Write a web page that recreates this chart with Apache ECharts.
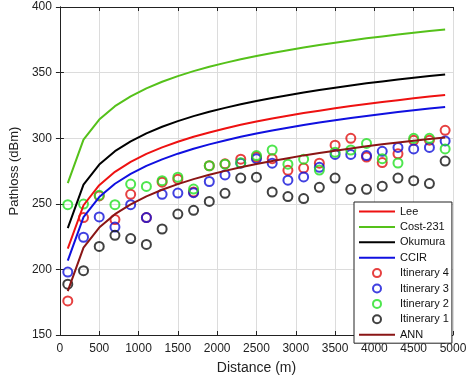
<!DOCTYPE html>
<html>
<head>
<meta charset="utf-8">
<script src="https://cdn.jsdelivr.net/npm/echarts@6/dist/echarts.min.js"></script>
<style>
html,body{margin:0;padding:0;background:#fff;}
#chart{width:474px;height:380px;}
</style>
</head>
<body>
<div id="chart"></div>
<script>
// Distances (m)
const distances = [100,300,500,700,900,1100,1300,1500,1700,1900,2100,2300,2500,2700,2900,3100,3300,3500,3700,3900,4100,4300,4500,4700,4900];

// Model curves
const lee      = [215.8,248.9,264.2,274.4,281.9,288.0,293.0,297.3,301.1,304.4,307.4,310.2,312.7,315.0,317.1,319.2,321.0,322.8,324.5,326.1,327.6,329.0,330.4,331.7,332.9];
const cost231  = [265.8,298.9,314.2,324.4,331.9,338.0,343.0,347.3,351.1,354.4,357.4,360.2,362.7,365.0,367.1,369.2,371.0,372.8,374.5,376.1,377.6,379.0,380.4,381.7,382.9];
const okumura  = [231.5,264.6,279.9,290.1,297.6,303.7,308.7,313.0,316.8,320.1,323.1,325.9,328.4,330.7,332.8,334.9,336.7,338.5,340.2,341.8,343.3,344.7,346.1,347.4,348.6];
const ccir     = [206.7,239.8,255.1,265.3,272.8,278.9,283.9,288.2,292.0,295.3,298.3,301.1,303.6,305.9,308.0,310.1,311.9,313.7,315.4,317.0,318.5,319.9,321.3,322.6,323.8];
const ann      = [183.5,216.6,231.9,242.1,249.6,255.7,260.7,265.0,268.8,272.1,275.1,277.9,280.4,282.7,284.8,286.9,288.7,290.5,292.2,293.8,295.3,296.7,298.1,299.4,300.6];

// Measurements
const itinerary4 = [176,239.5,256,238,257.2,239.5,266.5,268.8,259,279,280.5,284,285.6,284.4,275.5,277.2,281,294.7,299.9,285.6,281.4,288.1,298.4,298.5,306];
const itinerary3 = [198,224.5,240,232.3,249.3,239.5,257.2,258.2,258.5,267,272,281,284.4,281,268,270.5,277.8,287.6,287.6,286.8,290,293,291.8,293,297.9];
const itinerary2 = [249.3,249.8,256.5,249.3,265,263.2,267.6,270.3,261.2,279,280.2,281.2,286.8,291,280.2,284,275.7,289.3,291,296,284.4,281.1,299.9,299.9,291.8];
const itinerary1 = [188.7,199,217.5,226,223.5,219,230.8,242.2,245,251.8,258,269.6,270.3,259,255.5,254,262.6,269.6,261,261,263.4,269.6,267.6,265.4,282.6];

// Axis ticks
const xMin = 0, xMax = 5000, xStep = 500;
const yMin = 150, yMax = 400, yStep = 50;

const pair = arr => distances.map((d,i)=>[d,arr[i]]);

function lineSeries(name, arr, color){
  return {name, type:'line', data:pair(arr), symbol:'none', smooth:false,
    lineStyle:{color, width:2}, itemStyle:{color}, emphasis:{disabled:true}};
}
function scatterSeries(name, arr, color){
  return {name, type:'scatter', data:pair(arr), symbol:'circle', symbolSize:9,
    itemStyle:{color:'rgba(0,0,0,0)', borderColor:color, borderWidth:2}, emphasis:{disabled:true}};
}

const lineNames = ['Lee','Cost-231','Okumura','CCIR','ANN'];
const legendOrder = ['Lee','Cost-231','Okumura','CCIR','Itinerary 4','Itinerary 3','Itinerary 2','Itinerary 1','ANN'];

const chart = echarts.init(document.getElementById('chart'), null, {renderer:'canvas'});
const font = 'Liberation Sans, Arial, sans-serif';
chart.setOption({
  animation:false,
  backgroundColor:'#fff',
  textStyle:{fontFamily:font},
  grid:{left:45, right:21, top:7, bottom:35, containLabel:false},
  xAxis:[{
    type:'value', min:xMin, max:xMax, interval:xStep,
    name:'Distance (m)', nameLocation:'middle', nameGap:26,
    nameTextStyle:{fontSize:14, color:'#222', fontFamily:font},
    axisLine:{show:true, lineStyle:{color:'#222', width:1}},
    axisTick:{show:true, inside:true, length:4, lineStyle:{color:'#222'}},
    axisLabel:{fontSize:12, color:'#222', margin:8, fontFamily:font, formatter:v=>String(v)},
    splitLine:{show:true, lineStyle:{color:'#dcdcdc', width:1}}
  },{
    type:'value', min:xMin, max:xMax, interval:xStep, position:'top',
    axisLine:{show:true, lineStyle:{color:'#222', width:1}},
    axisTick:{show:true, inside:true, length:4, lineStyle:{color:'#222'}},
    axisLabel:{show:false}, splitLine:{show:false}
  }],
  yAxis:[{
    type:'value', min:yMin, max:yMax, interval:yStep,
    name:'Pathloss (dBm)', nameLocation:'middle', nameGap:34,
    nameTextStyle:{fontSize:13, color:'#222', fontFamily:font},
    axisLine:{show:true, lineStyle:{color:'#222', width:1}},
    axisTick:{show:true, inside:true, length:4, lineStyle:{color:'#222'}},
    axisLabel:{fontSize:12, color:'#222', margin:8, fontFamily:font, formatter:v=>String(v)},
    splitLine:{show:true, lineStyle:{color:'#dcdcdc', width:1}}
  },{
    type:'value', min:yMin, max:yMax, interval:yStep, position:'right',
    axisLine:{show:true, lineStyle:{color:'#222', width:1}},
    axisTick:{show:true, inside:true, length:4, lineStyle:{color:'#222'}},
    axisLabel:{show:false}, splitLine:{show:false}
  }],
  legend:{
    orient:'vertical', left:354, top:202,
    backgroundColor:'#fff', borderColor:'#222', borderWidth:1, borderRadius:0,
    padding:[4,3,3,4], itemWidth:36, itemHeight:8, itemGap:4.4,
    textStyle:{fontSize:11, color:'#111', fontFamily:font},
    data:legendOrder.map(n => lineNames.includes(n) ? {name:n, itemStyle:{opacity:0}} : {name:n})
  },
  series:[
    lineSeries('Lee', lee, '#ee1111'),
    lineSeries('Cost-231', cost231, '#55c11a'),
    lineSeries('Okumura', okumura, '#000000'),
    lineSeries('CCIR', ccir, '#1010e0'),
    scatterSeries('Itinerary 4', itinerary4, '#e01010'),
    scatterSeries('Itinerary 3', itinerary3, '#1010d8'),
    scatterSeries('Itinerary 2', itinerary2, '#22e022'),
    scatterSeries('Itinerary 1', itinerary1, '#111111'),
    lineSeries('ANN', ann, '#8a1515')
  ]
});
</script>
</body>
</html>
